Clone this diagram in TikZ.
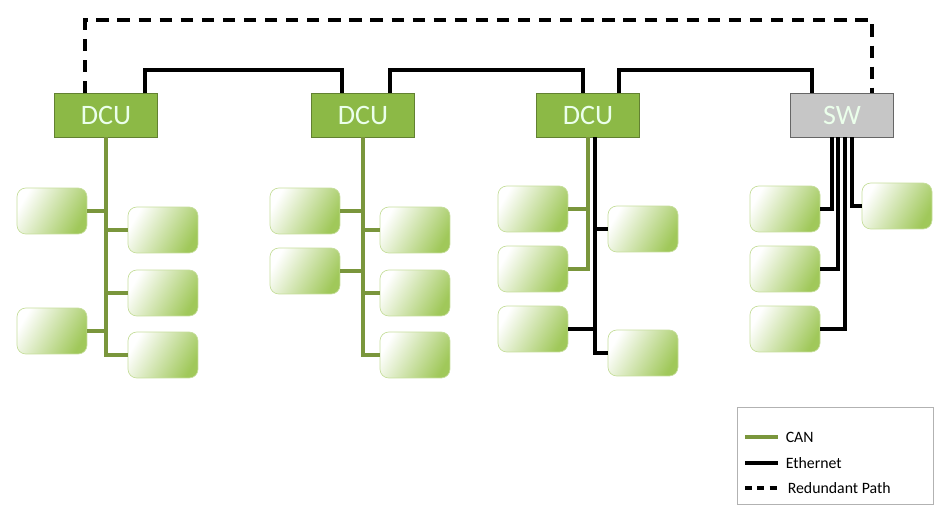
\documentclass[tikz,border=0pt]{standalone}
\usepackage{fontspec}
\setmainfont{Carlito}
\usetikzlibrary{positioning}
\definecolor{cangreen}{RGB}{122,150,60}
\definecolor{dcugreen}{RGB}{140,185,70}
\definecolor{ecugreen}{RGB}{160,200,90}
\begin{document}
\begin{tikzpicture}[x=0.02cm,y=-0.02cm, font=\sffamily]
\tikzset{
    dcunode/.style = {draw=dcugreen!70!black, fill=dcugreen, minimum width=2.06cm, minimum height=0.88cm, inner sep=0pt, text=white!92!green, font=\fontsize{16}{16}\selectfont},
    swnode/.style = {dcunode, draw=gray!80!black, fill=gray!45},
    ecunode/.style = {draw=ecugreen!60, rounded corners=5pt, left color=white, right color=ecugreen, shading angle=60, minimum width=1.4cm, minimum height=0.92cm, inner sep=0pt},
    can/.style = {line width=2.2pt, cangreen},
    eth/.style = {line width=2.2pt, black},
    redund/.style = {eth, dash pattern=on 7pt off 5pt}
}
\useasboundingbox (0,0) rectangle (950,524);
% control units
\node[dcunode] at (106,115) (d1) {DCU};
\node[dcunode] at (363,115) (d2) {DCU};
\node[dcunode] at (588,115) (d3) {DCU};
\node[swnode] at (842,115) (sw) {SW};
% ecus of DCU 1
\node[ecunode] at (52,211) (a1) {};
\node[ecunode] at (52,331) (a2) {};
\node[ecunode] at (163,230) (a3) {};
\node[ecunode] at (163,293) (a4) {};
\node[ecunode] at (163,355) (a5) {};
% ecus of DCU 2
\node[ecunode] at (305,211) (b1) {};
\node[ecunode] at (305,271) (b2) {};
\node[ecunode] at (415,230) (b3) {};
\node[ecunode] at (415,293) (b4) {};
\node[ecunode] at (415,355) (b5) {};
% ecus of DCU 3
\node[ecunode] at (533,209) (c1) {};
\node[ecunode] at (533,269) (c2) {};
\node[ecunode] at (533,329) (c3) {};
\node[ecunode] at (643,229) (c4) {};
\node[ecunode] at (643,353) (c5) {};
% ecus of SW
\node[ecunode] at (785,209) (s1) {};
\node[ecunode] at (785,269) (s2) {};
\node[ecunode] at (785,329) (s3) {};
\node[ecunode] at (897,206) (s4) {};
% CAN buses
\draw[can] (d1.south) -- (106,355) -- (a5.west);
\draw[can] (a1.east) -- (106,211);
\draw[can] (a2.east) -- (106,331);
\draw[can] (106,230) -- (a3.west);
\draw[can] (106,293) -- (a4.west);
\draw[can] (d2.south) -- (363,355) -- (b5.west);
\draw[can] (b1.east) -- (363,211);
\draw[can] (b2.east) -- (363,271);
\draw[can] (363,230) -- (b3.west);
\draw[can] (363,293) -- (b4.west);
\draw[can] (d3.south) -- (588,269) -- (c2.east);
\draw[can] (c1.east) -- (588,209);
% Ethernet links
\draw[eth] (595,137) -- (595,353) -- (c5.west);
\draw[eth] (595,229) -- (c4.west);
\draw[eth] (c3.east) -- (595,329);
\draw[eth] (832,137) |- (s1.east);
\draw[eth] (838,137) |- (s2.east);
\draw[eth] (845,137) |- (s3.east);
\draw[eth] (852,137) |- (s4.west);
\draw[eth] (145,93) -- (145,70) -- (342,70) -- (342,93);
\draw[eth] (390,93) -- (390,70) -- (583,70) -- (583,93);
\draw[eth] (619,93) -- (619,70) -- (812,70) -- (812,93);
% redundant path
\draw[redund] (85,93) -- (85,20) -- (872,20) -- (872,93);
% legend
\node[draw=gray!60, minimum width=3.92cm, minimum height=1.94cm] at (835,456) (lg) {};
\draw[can] (745,437) -- (778,437) node[right, black, font=\small] (l1) {CAN};
\draw[eth] (745,463) -- (778,463) node[right, black, font=\small] (l2) {Ethernet};
\draw[redund, dash pattern=on 4pt off 3pt] (745,488) -- (780,488) node[right, black, font=\small] (l3) {Redundant Path};
\end{tikzpicture}
\end{document}
